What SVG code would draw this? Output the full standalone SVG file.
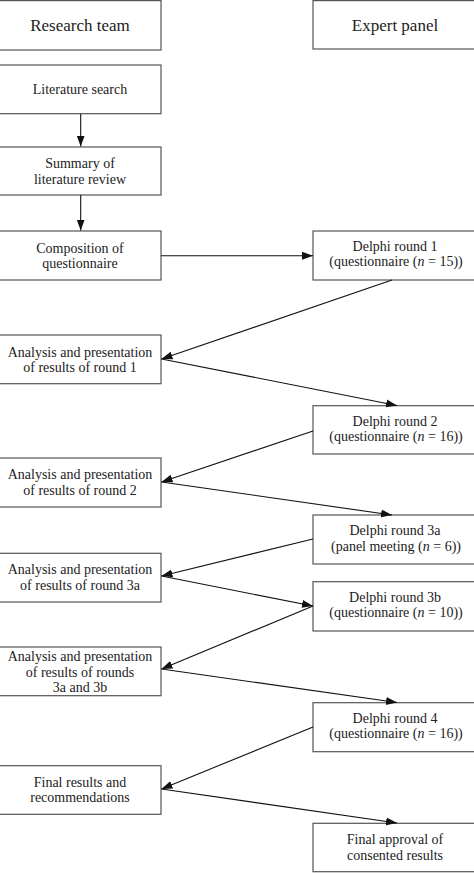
<svg xmlns="http://www.w3.org/2000/svg" width="474" height="873" viewBox="0 0 474 873">
<defs>
<style>
.box{fill:#fff;stroke:#555;stroke-width:1.2}
.t{font-family:"Liberation Serif","Times New Roman",serif;font-size:14px;fill:#222;text-anchor:middle}
.h{font-size:17px}
.c{stroke:#111;stroke-width:1.1;fill:none;marker-end:url(#ah)}
</style>
<marker id="ah" markerUnits="userSpaceOnUse" markerWidth="12" markerHeight="10" viewBox="0 0 12 10" refX="11" refY="5" orient="auto">
<path d="M0,1 L11,5 L0,9 Z" fill="#111"/>
</marker>
</defs>
<rect width="474" height="873" fill="#fff"/>
<g id="research-team"><rect class="box" x="-1" y="0.6" width="162" height="49.4"/><text class="t h" x="80" y="31">Research team</text></g>
<g id="expert-panel"><rect class="box" x="313" y="0.6" width="170" height="48.4"/><text class="t h" x="395" y="31">Expert panel</text></g>
<g id="literature-search"><rect class="box" x="-1" y="65" width="162" height="48.7"/><text class="t" x="80" y="94">Literature search</text></g>
<g id="summary"><rect class="box" x="-1" y="147" width="162" height="48"/><text class="t" x="80" y="168">Summary of</text><text class="t" x="80" y="184">literature review</text></g>
<g id="composition"><rect class="box" x="-1" y="231" width="162" height="49"/><text class="t" x="80" y="252.5">Composition of</text><text class="t" x="80" y="268">questionnaire</text></g>
<g id="delphi1"><rect class="box" x="313" y="231" width="170" height="49"/><text class="t" x="395" y="250.5">Delphi round 1</text><text class="t" x="396" y="266">(questionnaire (<tspan font-style="italic">n</tspan> = 15))</text></g>
<g id="analysis1"><rect class="box" x="-1" y="335" width="162" height="48.7"/><text class="t" x="80" y="356.5">Analysis and presentation</text><text class="t" x="80" y="372">of results of round 1</text></g>
<g id="delphi2"><rect class="box" x="313" y="405.7" width="170" height="48.3"/><text class="t" x="395" y="425.5">Delphi round 2</text><text class="t" x="396" y="441">(questionnaire (<tspan font-style="italic">n</tspan> = 16))</text></g>
<g id="analysis2"><rect class="box" x="-1" y="458" width="162" height="49"/><text class="t" x="80" y="479">Analysis and presentation</text><text class="t" x="80" y="494.5">of results of round 2</text></g>
<g id="delphi3a"><rect class="box" x="313" y="515" width="170" height="49"/><text class="t" x="395" y="535">Delphi round 3a</text><text class="t" x="396" y="551">(panel meeting (<tspan font-style="italic">n</tspan> = 6))</text></g>
<g id="analysis3a"><rect class="box" x="-1" y="553.3" width="162" height="48.7"/><text class="t" x="80" y="574">Analysis and presentation</text><text class="t" x="80" y="590">of results of round 3a</text></g>
<g id="delphi3b"><rect class="box" x="313" y="581.7" width="170" height="49.3"/><text class="t" x="395" y="601.5">Delphi round 3b</text><text class="t" x="396" y="617">(questionnaire (<tspan font-style="italic">n</tspan> = 10))</text></g>
<g id="analysis3ab"><rect class="box" x="-1" y="647" width="162" height="48.7"/><text class="t" x="80" y="661">Analysis and presentation</text><text class="t" x="80" y="676.5">of results of rounds</text><text class="t" x="80" y="692">3a and 3b</text></g>
<g id="delphi4"><rect class="box" x="313" y="702.7" width="170" height="49"/><text class="t" x="395" y="722.5">Delphi round 4</text><text class="t" x="396" y="738">(questionnaire (<tspan font-style="italic">n</tspan> = 16))</text></g>
<g id="final-results"><rect class="box" x="-1" y="765.7" width="162" height="48.6"/><text class="t" x="80" y="786.5">Final results and</text><text class="t" x="80" y="802">recommendations</text></g>
<g id="final-approval"><rect class="box" x="313" y="823.3" width="170" height="48.4"/><text class="t" x="395" y="844">Final approval of</text><text class="t" x="395" y="860">consented results</text></g>
<g id="connectors">
<line class="c" x1="80.7" y1="114" x2="80.7" y2="146.5"/>
<line class="c" x1="80.7" y1="195" x2="80.7" y2="230.5"/>
<line class="c" x1="161" y1="255.7" x2="313" y2="255.7"/>
<line class="c" x1="392" y1="280" x2="161.5" y2="359"/>
<line class="c" x1="161.5" y1="359" x2="397" y2="405.5"/>
<line class="c" x1="313" y1="431" x2="161.5" y2="482"/>
<line class="c" x1="161.5" y1="482" x2="392" y2="515"/>
<line class="c" x1="313" y1="539" x2="161.5" y2="576"/>
<line class="c" x1="161.5" y1="576" x2="313" y2="606"/>
<line class="c" x1="313" y1="606" x2="161.5" y2="669"/>
<line class="c" x1="161.5" y1="669" x2="397" y2="702.5"/>
<line class="c" x1="313" y1="727" x2="161.5" y2="789"/>
<line class="c" x1="161.5" y1="789" x2="397" y2="823"/>
</g>
</svg>
